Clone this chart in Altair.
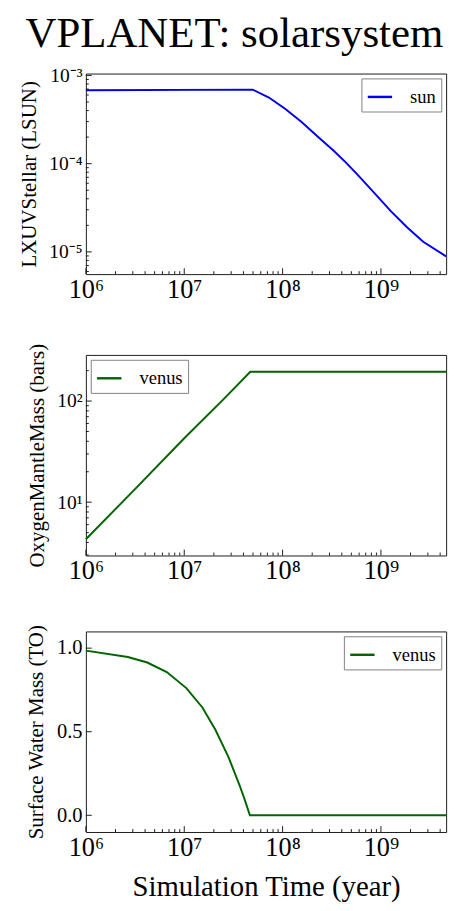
import altair as alt
import pandas as pd

# ---------------- data ----------------
sun_time = [1e6, 4.97e7, 7.26e7, 1.06e8, 1.55e8, 2.27e8, 3.33e8, 4.44e8, 5.87e8,
            8.59e8, 1.26e9, 1.84e9, 2.69e9, 4.6e9]
sun_lxuv = [6.8e-4, 6.9e-4, 5.62e-4, 4.19e-4, 2.98e-4, 2.03e-4, 1.39e-4, 1.02e-4, 7.36e-5,
            4.63e-5, 2.90e-5, 1.90e-5, 1.30e-5, 8.9e-6]

venus_o2_time = [1e6, 3e6, 1e7, 2.5e7, 4.7e7, 1e8, 1e9, 4.6e9]
venus_o2_mass = [4.3, 12.8, 42.9, 104.0, 195.0, 195.0, 195.0, 195.0]

venus_w_time = [1e6, 2.67e6, 4.21e6, 6.64e6, 1.05e7, 1.53e7, 2.08e7, 2.81e7, 3.66e7,
                4.11e7, 4.65e7, 1e8, 1e9, 4.6e9]
venus_w_mass = [0.985, 0.947, 0.914, 0.857, 0.761, 0.645, 0.51, 0.350, 0.178,
                0.095, 0.0, 0.0, 0.0, 0.0]

x_domain = [1e6, 4.6e9]
x_major = [1e6, 1e7, 1e8, 1e9]
x_major_labels = ["10⁶", "10⁷", "10⁸", "10⁹"]
x_minor = [m * d for d in (1e6, 1e7, 1e8) for m in range(2, 10)] + [2e9, 3e9, 4e9]

y1_domain = [5.6e-6, 1.05e-3]
y1_major = [1e-5, 1e-4, 1e-3]
y1_major_labels = ["10⁻⁵", "10⁻⁴", "10⁻³"]
y1_minor = [6e-6, 7e-6, 8e-6, 9e-6] + [m * d for d in (1e-5, 1e-4) for m in range(2, 10)]

y2_domain = [2.97, 286]
y2_major = [10, 100]
y2_major_labels = ["10¹", "10²"]
y2_minor = [3, 4, 5, 6, 7, 8, 9] + [m * 10 for m in range(2, 10)] + [200]

y3_domain = [-0.1, 1.1]
y3_major = [0.0, 0.5, 1.0]

# ---------------- styling ----------------
W, H = 370, 206
SERIF = "Liberation Serif"
FRAME = "#1a1a1a"
MAJ, MIN = 6, 3


def label_expr(values, labels):
    expr = "''"
    for v, l in reversed(list(zip(values, labels))):
        expr = f"datum.value == {v!r} ? '{l}' : ({expr})"
    return expr


def xscale():
    return alt.Scale(type="log", domain=x_domain, nice=False)


def panel(times, vals, series, color, ytitle, yscale_fn, yaxis_kw, y_maj, y_min,
          legend_orient, xtitle=None):
    df = pd.DataFrame({"t": times, "v": vals, "series": series})
    xaxis = alt.Axis(values=x_major, labelExpr=label_expr(x_major, x_major_labels),
                     labelFontSize=27, labelPadding=3, labelFlush=False, labelOverlap=False,
                     titleFontSize=29.5, titlePadding=13, title=xtitle)
    yaxis = alt.Axis(title=ytitle, labelFlush=False, labelOverlap=False, **yaxis_kw)
    line = alt.Chart(df).mark_line(strokeWidth=2).encode(
        x=alt.X("t:Q", scale=xscale(), axis=xaxis),
        y=alt.Y("v:Q", scale=yscale_fn(), axis=yaxis),
        color=alt.Color("series:N", scale=alt.Scale(domain=[series], range=[color]),
                        legend=alt.Legend(title=None, orient=legend_orient, offset=5, padding=5,
                                          strokeColor="#808080", fillColor="white",
                                          symbolType="stroke", symbolSize=625,
                                          symbolStrokeWidth=2.5, labelFont=SERIF,
                                          labelFontSize=19, labelOffset=17,
                                          labelColor="black")),
    )
    layers = [line]
    for vals_, ln in ((x_major, MAJ), (x_minor, MIN)):
        layers.append(
            alt.Chart(pd.DataFrame({"t": vals_})).mark_rule(color=FRAME, strokeWidth=1).encode(
                x=alt.X("t:Q", scale=xscale(), axis=xaxis),
                y=alt.value(H), y2=alt.value(H - ln)))
    for vals_, ln in ((y_maj, MAJ), (y_min, MIN)):
        if not vals_:
            continue
        layers.append(
            alt.Chart(pd.DataFrame({"v": vals_})).mark_rule(color=FRAME, strokeWidth=1).encode(
                y=alt.Y("v:Q", scale=yscale_fn(), axis=yaxis),
                x=alt.value(0), x2=alt.value(ln)))
    return alt.layer(*layers).properties(width=W, height=H)


ylog = dict(labelFontSize=20, labelPadding=4, titleFontSize=21.5, titlePadding=9)
ylin = dict(labelFontSize=21, labelPadding=4, titleFontSize=21.5, titlePadding=9)

p1 = panel(sun_time, sun_lxuv, "sun", "#0000ee", "LXUVStellar (LSUN)",
           lambda: alt.Scale(type="log", domain=y1_domain, nice=False),
           dict(values=y1_major, labelExpr=label_expr(y1_major, y1_major_labels), **ylog),
           y1_major, y1_minor, "top-right")

p2 = panel(venus_o2_time, venus_o2_mass, "venus", "#006400", "OxygenMantleMass (bars)",
           lambda: alt.Scale(type="log", domain=y2_domain, nice=False),
           dict(values=y2_major, labelExpr=label_expr(y2_major, y2_major_labels), **ylog),
           y2_major, y2_minor, "top-left")

p3 = panel(venus_w_time, venus_w_mass, "venus", "#006400", "Surface Water Mass (TO)",
           lambda: alt.Scale(type="linear", domain=y3_domain, nice=False, zero=False),
           dict(values=y3_major, format=".1f", **ylin),
           y3_major, [], "top-right", xtitle="Simulation Time (year)")

chart = alt.vconcat(p1, p2, p3, spacing=40).properties(
    title=alt.TitleParams("VPLANET: solarsystem", font=SERIF, fontSize=44,
                          fontWeight="normal", anchor="middle", color="black", offset=10)
).resolve_scale(
    x="independent", y="independent", color="independent"
).resolve_legend(color="independent").configure(
    padding={"top": -8, "left": 10, "right": 0, "bottom": 5}
).configure_view(
    stroke=FRAME, strokeWidth=1
).configure_axis(
    grid=False, domain=False, ticks=False, labelFont=SERIF, titleFont=SERIF,
    labelColor="black", titleColor="black", titleFontWeight="normal"
)

chart.save("out.html", embed_options={"renderer": "svg", "actions": False})
